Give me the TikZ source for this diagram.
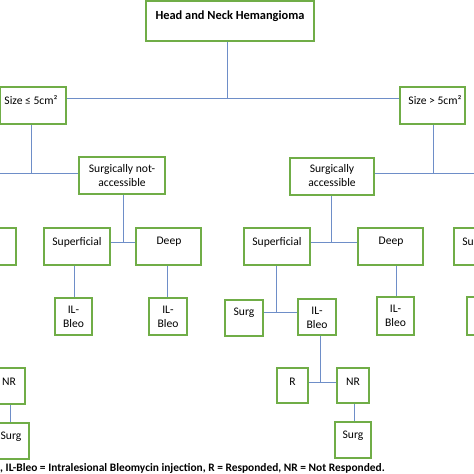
\documentclass[tikz,border=0pt]{standalone}
\usepackage{fontspec}
\setmainfont{Carlito}
\definecolor{bgreen}{RGB}{112,173,71}
\definecolor{lblue}{RGB}{110,142,200}
\begin{document}
\begin{tikzpicture}[x=1pt,y=-1pt,
  box/.style={draw=bgreen, line width=1.4pt, inner sep=0pt, rectangle, fill=white},
  txt/.style={font=\fontsize{11.6}{14}\selectfont, align=center, inner sep=0pt, text=black},
  conn/.style={draw=lblue, line width=0.9pt}]
\useasboundingbox (0,0) rectangle (474,474);
\fill[white] (0,0) rectangle (474,474);
\clip (0,0) rectangle (474,474);

% connector junctions
\coordinate (j1) at (227,98);
\coordinate (jL) at (0,173);
\coordinate (jLs) at (31,173);
\coordinate (jR) at (474,173);
\coordinate (jRs) at (433,173);
\coordinate (j3) at (123,242);
\coordinate (j4) at (331,242);
\coordinate (j5) at (276,312);
\coordinate (j6) at (320,382);

% connectors (drawn first, boxes on top)
\draw[conn] (227,41) -- (j1);
\draw[conn] (67,98) -- (400,98);
\draw[conn] (31,124) -- (jLs);
\draw[conn] (jL) -- (79,173);
\draw[conn] (433,124) -- (jRs);
\draw[conn] (374,173) -- (jR);
\draw[conn] (123,194) -- (j3);
\draw[conn] (110,242) -- (136,242);
\draw[conn] (331,195) -- (j4);
\draw[conn] (310,242) -- (358,242);
\draw[conn] (74,265) -- (74,298);
\draw[conn] (167,265) -- (167,298);
\draw[conn] (276,265) -- (j5);
\draw[conn] (263,312) -- (298,312);
\draw[conn] (396,265) -- (396,297);
\draw[conn] (320,335) -- (j6);
\draw[conn] (308,382) -- (337,382);
\draw[conn] (354,403) -- (354,422);
\draw[conn] (10,404) -- (10,423);

% boxes
\node[box, minimum width=168, minimum height=40] (head) at (230,21) {};
\node[box, minimum width=66, minimum height=37] (s1) at (33,105.5) {};
\node[box, minimum width=65, minimum height=37] (s2) at (432.5,105.5) {};
\node[box, minimum width=86, minimum height=37] (sna) at (122,175.5) {};
\node[box, minimum width=84, minimum height=37] (sa) at (332,176.5) {};
\node[box, minimum width=66, minimum height=37] (offL) at (-17,246.5) {};
\node[box, minimum width=66, minimum height=37] (supL) at (77,246.5) {};
\node[box, minimum width=65, minimum height=37] (deepL) at (168.5,246.5) {};
\node[box, minimum width=66, minimum height=37] (supR) at (277,246.5) {};
\node[box, minimum width=65, minimum height=37] (deepR) at (390.5,246.5) {};
\node[box, minimum width=66, minimum height=37] (offR) at (487,246.5) {};
\node[box, minimum width=37, minimum height=37] (ib1) at (73.5,316.5) {};
\node[box, minimum width=38, minimum height=37] (ib2) at (168,316.5) {};
\node[box, minimum width=38, minimum height=36] (surgA) at (244,318) {};
\node[box, minimum width=38, minimum height=36] (ib3) at (317,317) {};
\node[box, minimum width=37, minimum height=38] (ib4) at (395.5,316) {};
\node[box, minimum width=38, minimum height=38] (ibOff) at (486,316) {};
\node[box, minimum width=31, minimum height=35] (r) at (292.5,385.5) {};
\node[box, minimum width=32, minimum height=35] (nr) at (353,385.5) {};
\node[box, minimum width=36, minimum height=36] (surgB) at (353,440) {};
\node[box, minimum width=32, minimum height=36] (nrL) at (9,386) {};
\node[box, minimum width=36, minimum height=36] (surgL) at (11,441) {};

% texts
\node[txt, font=\fontsize{12.4}{14}\selectfont\bfseries] (t-head) at (230,16) {Head and Neck Hemangioma};
\node[txt] (t-s1) at (31,100) {Size ≤ 5cm²};
\node[txt] (t-s2) at (435,100) {Size > 5cm²};
\node[txt] (t-sna) at (122,176) {Surgically not-\\accessible};
\node[txt] (t-sa) at (332,176) {Surgically\\accessible};
\node[txt] (t-supL) at (77,242) {Superficial};
\node[txt] (t-deepL) at (169,242) {Deep};
\node[txt] (t-supR) at (277,242) {Superficial};
\node[txt] (t-deepR) at (391,242) {Deep};
\node[txt] (t-offR) at (487,242) {Superficial};
\node[txt] (t-ib1) at (73.5,316.5) {IL-\\Bleo};
\node[txt] (t-ib2) at (168,316.5) {IL-\\Bleo};
\node[txt] (t-surgA) at (244,313) {Surg};
\node[txt] (t-ib3) at (317,318) {IL-\\Bleo};
\node[txt] (t-ib4) at (395.5,316) {IL-\\Bleo};
\node[txt] (t-r) at (292.5,382) {R};
\node[txt] (t-nr) at (353,382) {NR};
\node[txt] (t-surgB) at (353,436) {Surg};
\node[txt] (t-nrL) at (9,382) {NR};
\node[txt] (t-surgL) at (11,437) {Surg};

\node[txt, anchor=west, font=\fontsize{11.4}{13}\selectfont\bfseries] (cap) at (0,468) {, IL-Bleo = Intralesional Bleomycin injection, R = Responded, NR = Not Responded.};
\end{tikzpicture}
\end{document}
